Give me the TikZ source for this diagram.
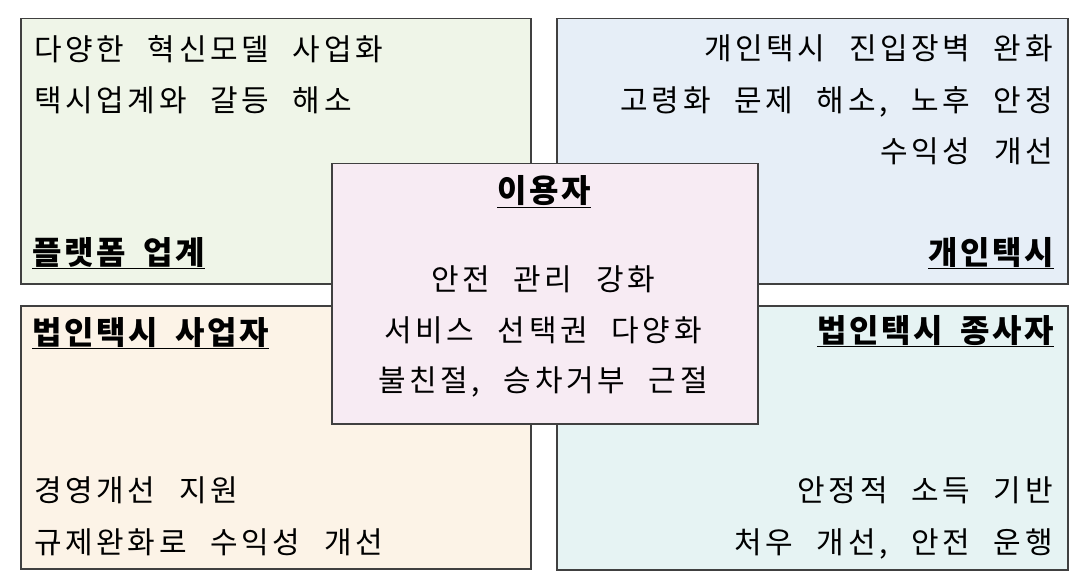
\documentclass[tikz,border=0pt]{standalone}
\usepackage{fontspec}
\setmainfont{Noto Sans CJK KR}[LetterSpace=12, WordSpace=2.3, BoldFeatures={LetterSpace=8, WordSpace=1.8}]
\usepackage{tikz}

\definecolor{boxline}{RGB}{64,64,64}
\definecolor{platgreen}{RGB}{239,245,232}
\definecolor{indblue}{RGB}{230,238,247}
\definecolor{corporange}{RGB}{252,243,231}
\definecolor{drvcyan}{RGB}{230,243,243}
\definecolor{userpink}{RGB}{247,235,243}

\begin{document}
\begin{tikzpicture}[x=1pt,y=-1pt,
quadbox/.style={rectangle, draw=boxline, line width=1.5pt, anchor=north west, inner sep=0pt, minimum width=510pt, minimum height=265pt},
userbox/.style={rectangle, draw=boxline, line width=1.5pt, anchor=north west, inner sep=0pt, minimum width=426pt, minimum height=260pt, fill=userpink},
bodytext/.style={font=\fontsize{30}{34}\selectfont, inner sep=0pt},
headtext/.style={font=\fontsize{32}{36}\selectfont\bfseries, inner sep=0pt}
]
\useasboundingbox (0,0) rectangle (1084,588);

%Boxes
\node[quadbox, fill=platgreen] at (20,18) (PLAT) {};
\node[quadbox, fill=indblue, minimum width=511pt] at (556,18) (IND) {};
\node[quadbox, fill=corporange, minimum height=263pt] at (20,305) (CORP) {};
\node[quadbox, fill=drvcyan, minimum width=511pt, minimum height=264pt] at (556,305) (DRV) {};
\node[userbox] at (331,163) (USER) {};

%Text
\node[bodytext, anchor=base west] at (34,61) (PLAT-1) {다양한 혁신모델 사업화};
\node[bodytext, anchor=base west] at (34,112) (PLAT-2) {택시업계와 갈등 해소};
\node[headtext, anchor=base west] at (32,264) (PLAT-H) {\underline{플랫폼 업계}};

\node[bodytext, anchor=base east] at (1053,60) (IND-1) {개인택시 진입장벽 완화};
\node[bodytext, anchor=base east] at (1053,112) (IND-2) {고령화 문제 해소, 노후 안정};
\node[bodytext, anchor=base east] at (1053,163) (IND-3) {수익성 개선};
\node[headtext, anchor=base east] at (1054,264) (IND-H) {\underline{개인택시}};

\node[headtext, anchor=base west] at (32,344) (CORP-H) {\underline{법인택시 사업자}};
\node[bodytext, anchor=base west] at (34,501) (CORP-1) {경영개선 지원};
\node[bodytext, anchor=base west] at (34,553) (CORP-2) {규제완화로 수익성 개선};

\node[headtext, anchor=base east] at (1054,342) (DRV-H) {\underline{법인택시 종사자}};
\node[bodytext, anchor=base east] at (1053,501) (DRV-1) {안정적 소득 기반};
\node[bodytext, anchor=base east] at (1053,553) (DRV-2) {처우 개선, 안전 운행};

\node[headtext, anchor=base] at (544,203) (USER-H) {\underline{이용자}};
\node[bodytext, anchor=base] at (543,290) (USER-1) {안전 관리 강화};
\node[bodytext, anchor=base] at (543,341) (USER-2) {서비스 선택권 다양화};
\node[bodytext, anchor=base] at (543,391) (USER-3) {불친절, 승차거부 근절};

\end{tikzpicture}
\end{document}
